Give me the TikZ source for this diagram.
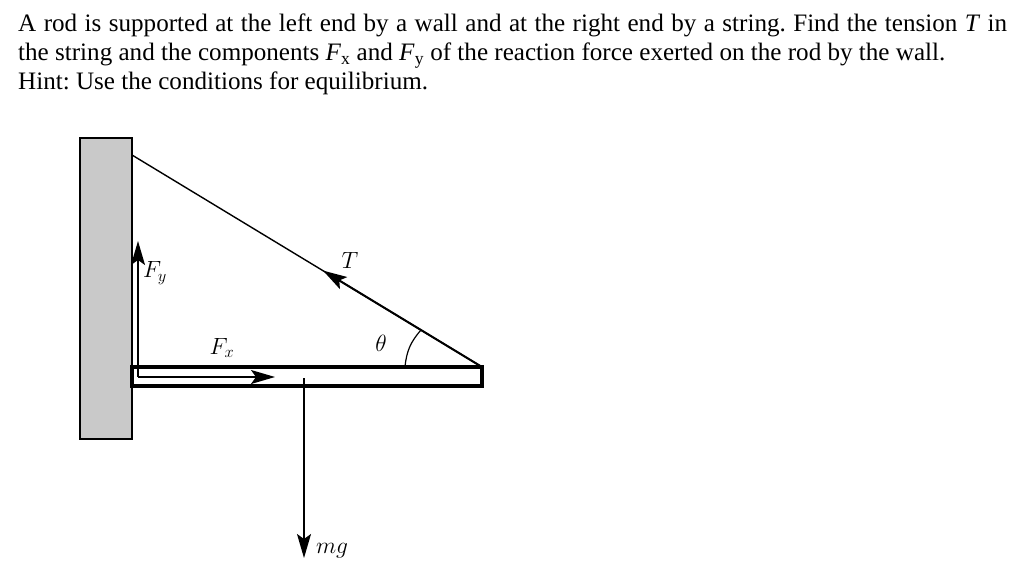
\documentclass[tikz,border=0pt]{standalone}
\usepackage{fix-cm}
\usepackage{amsmath}
\usepackage{amssymb}
\usepackage{fontspec}
\setmainfont{Liberation Serif}
\usetikzlibrary{arrows.meta}

\begin{document}
\frenchspacing
\begin{tikzpicture}[x=1pt, y=-1pt,
  txt/.style={anchor=base west, inner sep=0pt, font=\fontsize{25.1}{29}\selectfont},
  lab/.style={inner sep=0pt, font=\fontsize{23.5}{28}\selectfont},
  force/.style={draw, line width=1.4pt, -{Stealth[length=24pt, width=14pt, inset=5pt]}}]
\useasboundingbox (0,0) rectangle (1024,575);

\node[txt] (line1) at (18,32) {\makebox[989pt][s]{A rod is supported at the left end by a wall and at the right end by a string. Find the tension \textit{T} in}};
\node[txt] (line2) at (18,61) {the string and the components \textit{F}\textsubscript{x} and \textit{F}\textsubscript{y} of the reaction force exerted on the rod by the wall.};
\node[txt] (line3) at (18,90) {Hint: Use the conditions for equilibrium.};

\node[draw, fill=black!21, line width=2pt, inner sep=0pt, minimum width=52pt, minimum height=301pt] (wall) at (106,288.5) {};
\node[draw, line width=3.8pt, inner sep=0pt, minimum width=350pt, minimum height=19pt] (rod) at (307,376.5) {};

\coordinate (top) at (132,155);
\coordinate (end) at (482,367);
\coordinate (tip) at (323,270.6);
\coordinate (corner) at (138,377);
\coordinate (fxtip) at (275,377);
\coordinate (fytip) at (138,241);
\coordinate (cm) at (304,378);
\coordinate (mgtip) at (304,558);
\coordinate (arcstart) at (405,367);
\coordinate (arcend) at (421,330);

\draw[line width=1.4pt] (end) -- (top);
\draw[force, line width=2pt] (end) -- (tip);
\draw[force] (corner) -- (fxtip);
\draw[force] (corner) -- (fytip);
\draw[force] (cm) -- (mgtip);
\draw[line width=1.2pt] (arcstart) to[bend left=18] (arcend);

\node[lab] (T) at (350,260) {$T$};
\node[lab] (theta) at (381,343) {$\theta$};
\node[lab] (Fx) at (222,348) {$F_x$};
\node[lab] (Fy) at (155,273) {$F_y$};
\node[lab] (mg) at (332,551) {$mg$};
\end{tikzpicture}
\end{document}
